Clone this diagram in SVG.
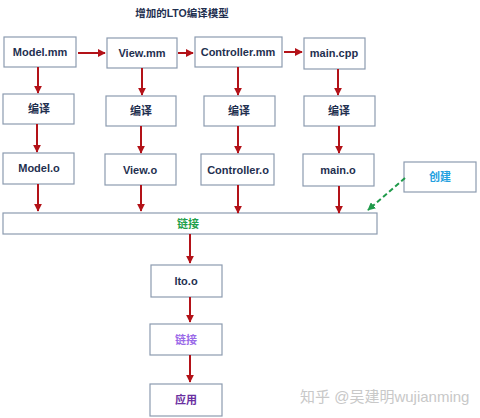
<svg xmlns="http://www.w3.org/2000/svg" width="480" height="418" viewBox="0 0 480 418">
<defs>
<marker id="ar" viewBox="0 0 10 10" refX="9" refY="5" markerWidth="4" markerHeight="4" orient="auto" markerUnits="strokeWidth">
<path d="M0,0 L10,5 L0,10 z" fill="#b31218"/>
</marker>
<marker id="ag" viewBox="0 0 10 10" refX="9" refY="5" markerWidth="4" markerHeight="4" orient="auto" markerUnits="strokeWidth">
<path d="M0,0 L10,5 L0,10 z" fill="#1f9a4a"/>
</marker>
</defs>
<style>
.b{fill:#fff;stroke:#8c9bb0;stroke-width:1.2}
.t{font-family:"Liberation Sans","Noto Sans CJK SC",sans-serif;font-size:11px;font-weight:bold;fill:#1f3050;text-anchor:middle;dominant-baseline:central}
.r{stroke:#b31218;stroke-width:2;fill:none;marker-end:url(#ar)}
</style>
<rect width="480" height="418" fill="#fff"/>
<text x="182" y="13" class="t" style="font-size:10.5px">增加的LTO编译模型</text>
<g id="model_mm"><rect class="b" x="4" y="37" width="72" height="30"/><text class="t" x="40" y="52">Model.mm</text></g>
<g id="view_mm"><rect class="b" x="107" y="38" width="70" height="30"/><text class="t" x="142" y="53">View.mm</text></g>
<g id="controller_mm"><rect class="b" x="195" y="37" width="87" height="30"/><text class="t" x="238" y="52">Controller.mm</text></g>
<g id="main_cpp"><rect class="b" x="304" y="38" width="61" height="31"/><text class="t" x="334" y="53">main.cpp</text></g>
<g id="compile1"><rect class="b" x="3" y="94" width="71" height="30"/><text class="t" x="39" y="109">编译</text></g>
<g id="compile2"><rect class="b" x="106" y="96" width="70" height="30"/><text class="t" x="141" y="111">编译</text></g>
<g id="compile3"><rect class="b" x="204" y="96" width="71" height="30"/><text class="t" x="239" y="111">编译</text></g>
<g id="compile4"><rect class="b" x="304" y="96" width="71" height="30"/><text class="t" x="339" y="111">编译</text></g>
<g id="model_o"><rect class="b" x="3" y="153" width="71" height="31"/><text class="t" x="39" y="168">Model.o</text></g>
<g id="view_o"><rect class="b" x="105" y="154" width="71" height="31"/><text class="t" x="140" y="170">View.o</text></g>
<g id="controller_o"><rect class="b" x="201" y="154" width="73" height="31"/><text class="t" x="238" y="170">Controller.o</text></g>
<g id="main_o"><rect class="b" x="303" y="154" width="71" height="32"/><text class="t" x="338" y="170">main.o</text></g>
<g id="create"><rect class="b" x="404" y="162" width="72" height="30"/><text class="t" x="440" y="177" style="fill:#22a0e0">创建</text></g>
<g id="link_all"><rect class="b" x="3" y="213" width="374" height="21"/><text class="t" x="188" y="224" style="fill:#1fa04a">链接</text></g>
<g id="lto_o"><rect class="b" x="151" y="265" width="71" height="32"/><text class="t" x="186" y="281">lto.o</text></g>
<g id="link2"><rect class="b" x="150" y="324" width="72" height="31"/><text class="t" x="186" y="340" style="fill:#9a6ae8">链接</text></g>
<g id="app"><rect class="b" x="150" y="384" width="72" height="32"/><text class="t" x="186" y="400" style="fill:#6a2fa0">应用</text></g>
<g id="connectors">
<line class="r" x1="78" y1="53" x2="105" y2="53"/>
<line class="r" x1="178" y1="53" x2="193" y2="53"/>
<line class="r" x1="284" y1="52" x2="302" y2="52"/>
<line class="r" x1="38" y1="67" x2="38" y2="93"/>
<line class="r" x1="142" y1="68" x2="142" y2="95"/>
<line class="r" x1="238" y1="67" x2="238" y2="95"/>
<line class="r" x1="338" y1="69" x2="338" y2="95"/>
<line class="r" x1="37" y1="124" x2="37" y2="152"/>
<line class="r" x1="141" y1="126" x2="141" y2="153"/>
<line class="r" x1="238" y1="126" x2="238" y2="153"/>
<line class="r" x1="339" y1="126" x2="339" y2="153"/>
<line class="r" x1="38" y1="184" x2="38" y2="211"/>
<line class="r" x1="141" y1="185" x2="141" y2="211"/>
<line class="r" x1="238" y1="185" x2="238" y2="213"/>
<line class="r" x1="339" y1="186" x2="339" y2="213"/>
<line x1="405" y1="178" x2="368" y2="210" stroke="#1f9a4a" stroke-width="2" stroke-dasharray="5,3" marker-end="url(#ag)"/>
<line class="r" x1="190" y1="234" x2="190" y2="263"/>
<line class="r" x1="190" y1="297" x2="190" y2="322"/>
<line class="r" x1="190" y1="355" x2="190" y2="382"/>
</g>
<text x="300" y="396" style="font-family:'Liberation Sans','Noto Sans CJK SC',sans-serif;font-size:15px;fill:#c8c8c8;dominant-baseline:central">知乎 @吴建明wujianming</text>
</svg>
